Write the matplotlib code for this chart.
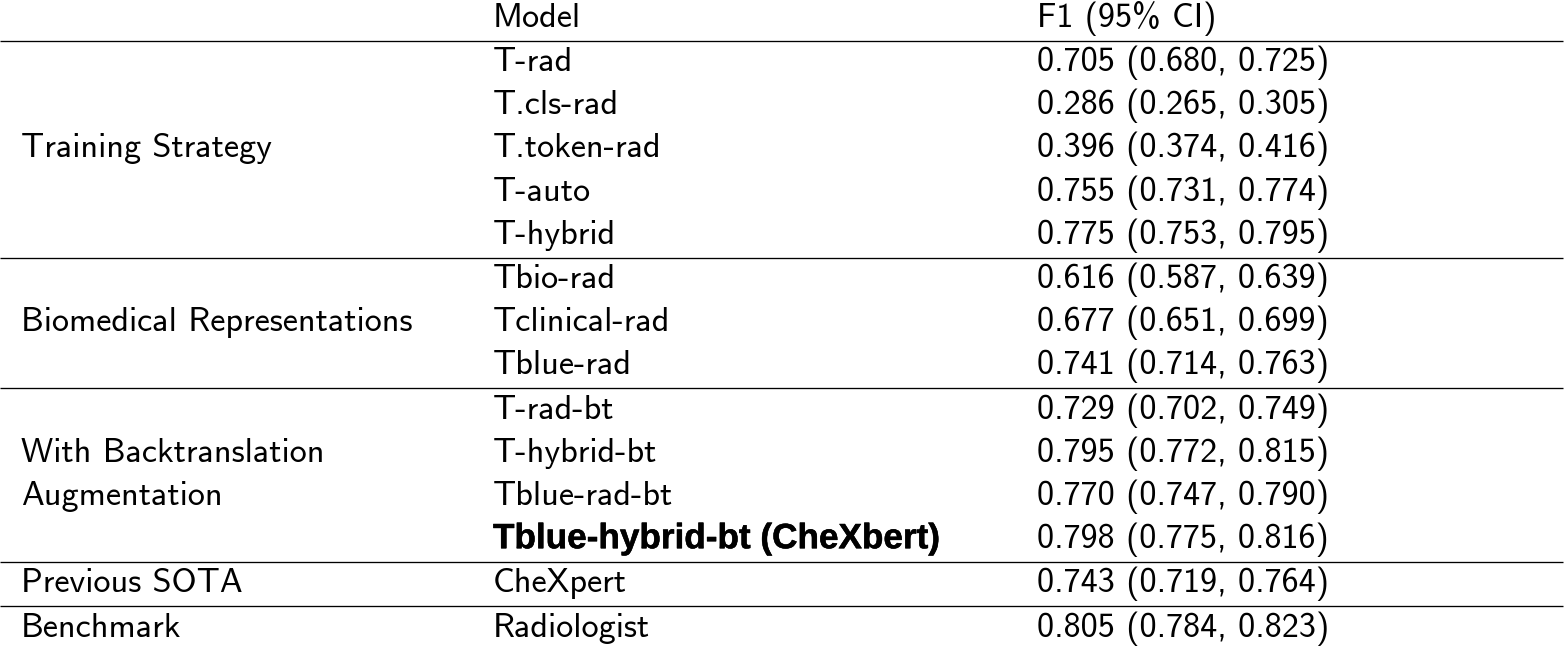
import matplotlib
matplotlib.use("Agg")
import matplotlib.pyplot as plt
import matplotlib.patheffects as pe

# ---- data ----
header_model = "Model"
header_f1 = "F1 (95% CI)"
groups = ["Training Strategy", "Biomedical Representations",
          "With Backtranslation\nAugmentation", "Previous SOTA", "Benchmark"]
group_sizes = [5, 3, 4, 1, 1]
models = ["T-rad", "T.cls-rad", "T.token-rad", "T-auto", "T-hybrid",
          "Tbio-rad", "Tclinical-rad", "Tblue-rad",
          "T-rad-bt", "T-hybrid-bt", "Tblue-rad-bt", "Tblue-hybrid-bt (CheXbert)",
          "CheXpert", "Radiologist"]
f1 = [0.705, 0.286, 0.396, 0.755, 0.775, 0.616, 0.677, 0.741,
      0.729, 0.795, 0.770, 0.798, 0.743, 0.805]
ci_low = [0.680, 0.265, 0.374, 0.731, 0.753, 0.587, 0.651, 0.714,
          0.702, 0.772, 0.747, 0.775, 0.719, 0.784]
ci_high = [0.725, 0.305, 0.416, 0.774, 0.795, 0.639, 0.699, 0.763,
           0.749, 0.815, 0.790, 0.816, 0.764, 0.823]
bold_rows = ["Tblue-hybrid-bt (CheXbert)"]

# ---- layout ----
W, H = 1567, 648
fig = plt.figure(figsize=(W / 100, H / 100), dpi=100)
ax = fig.add_axes([0, 0, 1, 1])
ax.set_xlim(0, W)
ax.set_ylim(H, 0)
ax.axis("off")

FONT = "cmss10"
FS = 24.6
x_group, x_model, x_f1 = 21, 493, 1037
first_base, pitch, rule_gap = 71, 43.2, 1.0
line_kw = dict(color="black", lw=0.95, solid_capstyle="butt")
x_line0, x_line1 = 0, 1563

def txt(x, y, s, bold=False):
    if bold:
        ax.text(x, y, s, fontsize=25.3, family="Liberation Sans",
                fontweight="bold", va="baseline", ha="left", color="black",
                path_effects=[pe.withStroke(linewidth=0.4, foreground="black")])
    else:
        ax.text(x, y, s, fontsize=FS, family=FONT, va="baseline", ha="left",
                color="black")

# header
txt(x_model, 27, header_model)
txt(x_f1, 27, header_f1)
ax.plot([x_line0, x_line1], [first_base - 30.3] * 2, **line_kw)

# rows
baselines = []
row = 0
for gi, (g, n) in enumerate(zip(groups, group_sizes)):
    for j in range(n):
        y = first_base + pitch * row + rule_gap * gi
        baselines.append(y)
        m = models[row]
        txt(x_model, y, m, bold=(m in bold_rows))
        txt(x_f1, y, f"{f1[row]:.3f} ({ci_low[row]:.3f}, {ci_high[row]:.3f})")
        row += 1
    gb = baselines[-n:]
    lines = g.split("\n")
    if len(lines) == 1:
        mid = gb[(n - 1) // 2] if n % 2 == 1 else gb[n // 2]
        txt(x_group, mid, g)
    else:
        start = (n - len(lines)) // 2
        for k, ln in enumerate(lines):
            txt(x_group, gb[start + k], ln)
    if gi < len(groups) - 1:
        ax.plot([x_line0, x_line1], [gb[-1] + 14] * 2, **line_kw)

fig.savefig("out.png", dpi=100, facecolor="white")
